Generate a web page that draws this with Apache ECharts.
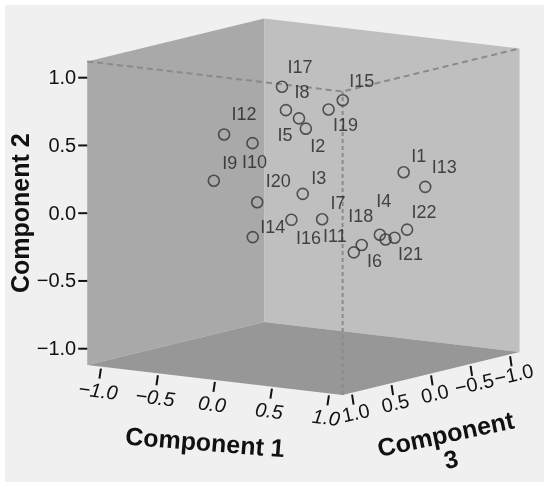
<!DOCTYPE html>
<html><head><meta charset="utf-8">
<script src="https://cdn.jsdelivr.net/npm/echarts@6/dist/echarts.min.js"></script>
<style>
html,body{margin:0;padding:0;background:#ffffff;}
#panel{position:absolute;left:5px;top:5px;width:539px;height:477px;background:#f0f0f0;}
#c{position:absolute;left:0;top:0;width:550px;height:491px;}
</style>
</head><body><div id="panel"></div><div id="c"></div><script>
// ---- data ----
const itemNames = ['I1','I2','I3','I4','I5','I6','I7','I8','I9','I10','I11','I12','I13','I14','I15','I16','I17','I18','I19','I20','I21','I22'];
const comp1 = [0.81, 0.16, 0.41, 0.74, 0.10, 0.79, 0.58, 0.02, -0.37, -0.10, 0.65, -0.28, 0.93, 0.11, 0.38, 0.38, 0.02, 0.65, 0.29, 0.08, 0.80, 0.84];
const comp2 = [0.32, 0.62, 0.22, -0.12, 0.69, -0.15, 0.05, 0.75, 0.24, 0.53, -0.23, 0.59, 0.21, -0.10, 0.83, 0.04, 0.93, -0.19, 0.76, 0.14, -0.15, -0.10];
const comp3 = [-0.10, 0.20, 0.60, 0.10, 0.20, 0.10, 0.60, 0.25, 0.60, 0.50, 0.30, 0.60, -0.20, 0.80, 0.05, 0.70, 0.30, 0.20, 0.10, 0.70, 0.00, -0.10];
const tickValues = [-1, -0.5, 0, 0.5, 1];
const tickLabels = ['\u22121.0', '\u22120.5', '0.0', '0.5', '1.0'];
const axisTitles = ['Component 1', 'Component 2', 'Component\n3'];

// ---- label placement (style) ----
const labelOffsets = [[15,-15],[12,18],[16,-15],[4,-33],[-14,18],[-11,23],[16,-15],[16,-17],[16,-17],[2,20],[-19,-15],[20,-19],[19,-19],[20,-9],[19,-18],[17,19],[18,-19],[-1,-28],[17,17],[21,-20],[16,17],[17,-17]];

// ---- camera / projection ----
const BOX = 1.12;
const CAM = {u1: 1.14, u3: -0.79, v1: -0.134, v2: 1.355, v3: -0.192};
function project(c1, c2, c3) {
  return [CAM.u1 * c1 + CAM.u3 * c3, CAM.v1 * c1 + CAM.v2 * c2 + CAM.v3 * c3];
}
const FONT = '"Liberation Sans", Arial, sans-serif';

function renderBox(params, api) {
  const a = BOX;
  const P = (c1, c2, c3) => api.coord(project(c1, c2, c3));
  const ch = [];
  const poly = (pts, fill) => ({type: 'polygon', shape: {points: pts}, style: {fill: fill}, silent: true});
  ch.push(poly([P(-a,-a,-a), P(-a,-a,a), P(-a,a,a), P(-a,a,-a)], '#a9a9a9'));
  ch.push(poly([P(-a,-a,-a), P(a,-a,-a), P(a,a,-a), P(-a,a,-a)], '#bfbfbf'));
  ch.push(poly([P(-a,-a,-a), P(-a,-a,a), P(a,-a,a), P(a,-a,-a)], '#979797'));
  const dashCol = '#8a8a8a';
  ch.push({type: 'polyline', shape: {points: [P(-a,a,a), P(a,a,a), P(a,a,-a)]},
           style: {stroke: dashCol, lineWidth: 2, lineDash: [6,4], fill: null}, silent: true});
  ch.push({type: 'polyline', shape: {points: [P(a,-a,a), P(a,a,a)]},
           style: {stroke: dashCol, lineWidth: 2, lineDash: [4,3], fill: null}, silent: true});
  const txt = (x, y, text, rot, font, align, extra) => Object.assign({
    type: 'text', x: x, y: y, rotation: rot || 0, silent: true,
    style: {text: text, fill: '#111', font: font, align: align || 'center', verticalAlign: 'middle',
            textAlign: align || 'center', textVerticalAlign: 'middle'}
  }, extra || {});
  tickValues.forEach((t, i) => {
    // component 2 (vertical) at left edge
    let p = P(-a, t, a);
    ch.push({type: 'line', shape: {x1: p[0]-9, y1: p[1], x2: p[0], y2: p[1]}, style: {stroke: '#111', lineWidth: 2}, silent: true});
    ch.push(txt(p[0]-11, p[1]+1, tickLabels[i], 0, '20px ' + FONT, 'right'));
    // component 1 along front-left bottom edge
    p = P(t, -a, a);
    ch.push({type: 'line', shape: {x1: p[0], y1: p[1]+2, x2: p[0]-1.5, y2: p[1]+12}, style: {stroke: '#111', lineWidth: 2}, silent: true});
    ch.push(txt(p[0]-3, p[1]+25.5, tickLabels[i], -0.12, 'italic 20px ' + FONT));
    // component 3 along front-right bottom edge
    p = P(a, -a, t);
    ch.push({type: 'line', shape: {x1: p[0], y1: p[1]+2, x2: p[0]+1.5, y2: p[1]+12}, style: {stroke: '#111', lineWidth: 2}, silent: true});
    ch.push(txt(p[0]+4, p[1]+21.5, tickLabels[i], 0.22, '20px ' + FONT));
  });
  const tf = 'bold 25px ' + FONT;
  let p = P(0, -a, a);
  ch.push(txt(p[0]-10, p[1]+64, axisTitles[0], -0.08, tf));
  p = P(-a, 0, a);
  ch.push(txt(p[0]-65, p[1], axisTitles[1], Math.PI/2, tf));
  p = P(a, -a, 0);
  const t3 = txt(p[0]+17.6, p[1]+75, axisTitles[2], 0.21, tf);
  t3.style.lineHeight = 26;
  ch.push(t3);
  return {type: 'group', children: ch};
}

const chart = echarts.init(document.getElementById('c'), null, {renderer: 'canvas'});
chart.setOption({
  animation: false,
  grid: {left: 0, right: 0, top: 0, bottom: 0, containLabel: false},
  xAxis: {type: 'value', min: -3.034, max: 2.466, show: false},
  yAxis: {type: 'value', min: -2.843, max: 2.067, show: false},
  series: [
    {type: 'custom', renderItem: renderBox, data: [[0, 0]], silent: true, z: 1, clip: false},
    {type: 'scatter', z: 10, silent: true,
     symbol: 'circle', symbolSize: 11,
     itemStyle: {color: 'rgba(0,0,0,0)', borderColor: '#333', borderWidth: 1.6},
     label: {show: true, position: 'inside', formatter: '{b}', fontSize: 18, color: '#222', fontFamily: FONT},
     data: itemNames.map((n, i) => ({
       name: n,
       value: project(comp1[i], comp2[i], comp3[i]),
       label: {offset: labelOffsets[i]}
     }))}
  ]
});
</script></body></html>
